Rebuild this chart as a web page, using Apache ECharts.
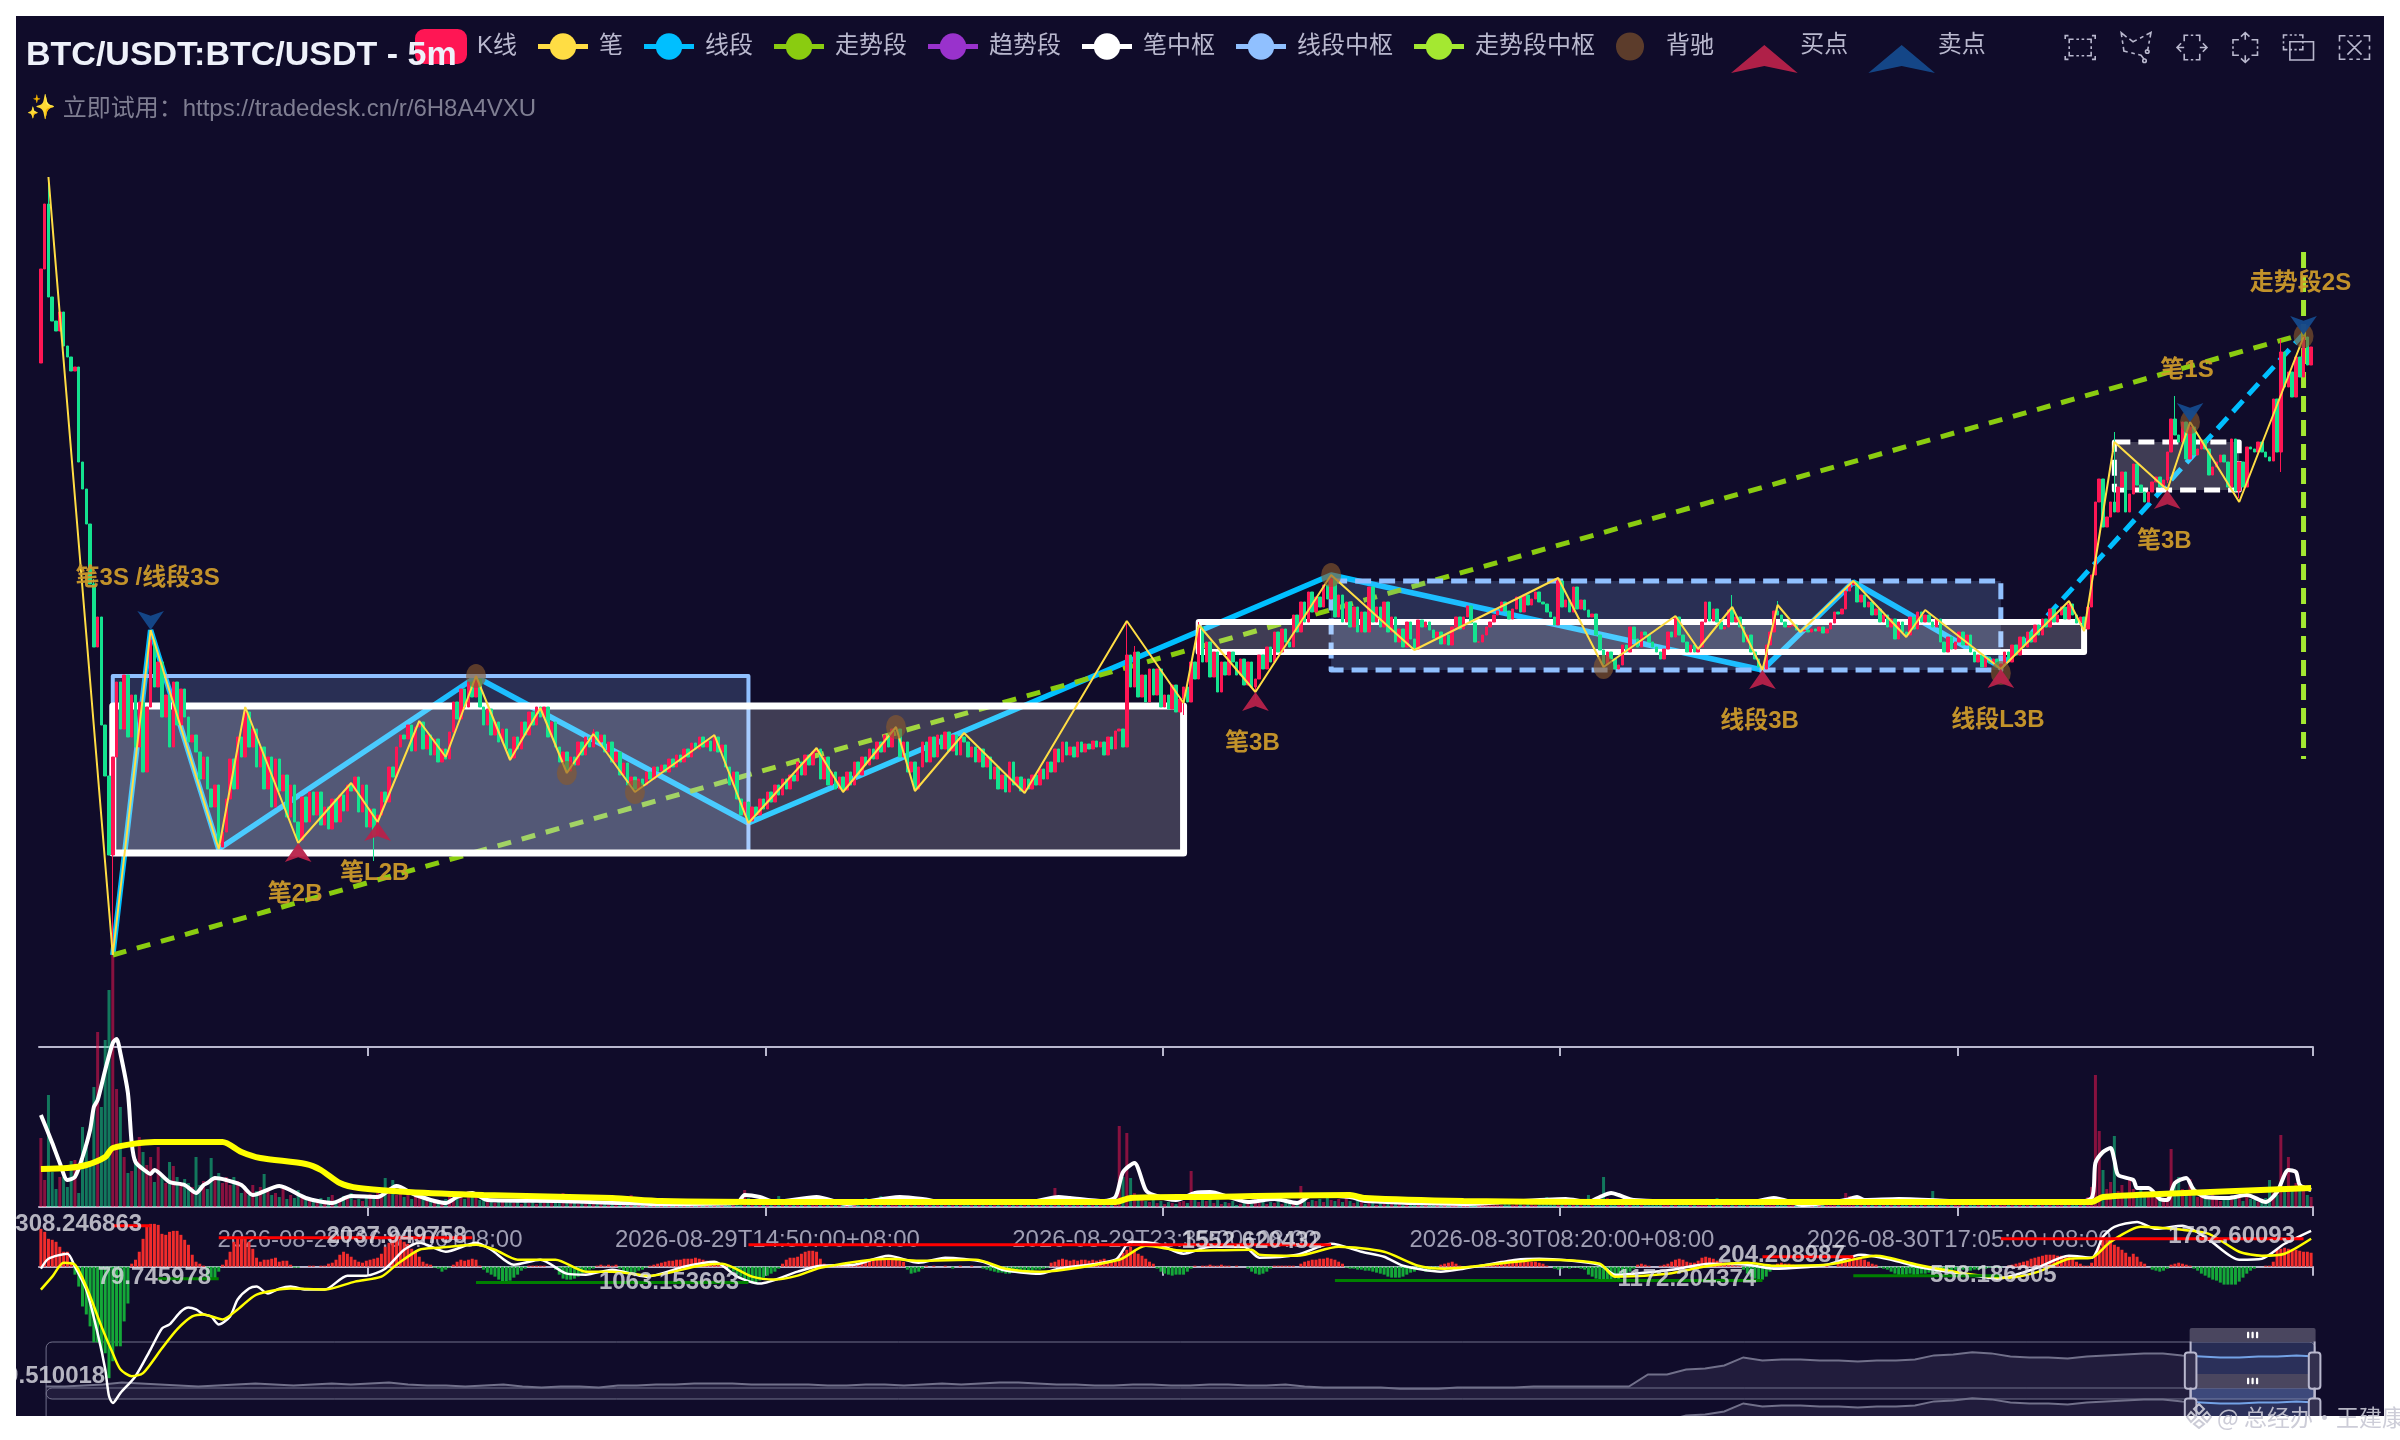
<!DOCTYPE html>
<html><head><meta charset="utf-8">
<style>
html,body{margin:0;padding:0;background:#fff;width:2400px;height:1440px;overflow:hidden}
#c{position:absolute;left:16px;top:16px;width:2368px;height:1400px}
#wm{position:absolute;left:2186px;top:1399px;font:23px 'Noto Sans CJK SC',sans-serif;color:rgba(200,200,212,.9);white-space:nowrap;display:flex;align-items:center;gap:5px}
</style>
<script src="https://cdn.jsdelivr.net/npm/echarts@6/dist/echarts.min.js"></script>
</head><body>
<div id="c"></div>
<div id="wm"><svg width="26" height="26" viewBox="0 0 26 26"><path d="M13 1l5 5-5 5-5-5zM5 9l5 5-5 5-4-5zM21 9l4 5-4 5-5-5zM13 17l5 4-5 4-5-4z" fill="none" stroke="rgba(200,200,212,.95)" stroke-width="2"/></svg><span>@ 总经办·王建康</span></div>
<script>
const firstOpen = 684;
const closes = [
778,843,750,726,716,735,701,690,676,680,585,558,523,463,400,430,322,271,192,290,
365,318,372,310,352,300,345,275,340,407,
360,385,330,352,300,365,322,358,330,305,312,295,268,290,258,240,262,200,
215,248,288,258,310,290,335,
300,318,280,300,258,290,240,288,256,272,230,262,225,207,
250,225,255,232,255,222,240,218,248,225,252,236,262,256,
270,235,262,220,238,212,232,
255,245,280,270,300,312,308,322,296,320,325,
298,312,292,308,285,298,288,
315,345,328,358,340,365,350,368,
340,322,338,312,325,305,318,298,289,
310,298,325,312,335,322,340,330,
340,310,325,300,285,295,276,
290,282,305,292,310,300,315,
305,312,295,305,285,295,272,284,262,270,258,
268,262,275,268,280,276,282,275,288,280,292,285,298,290,304,298,310,300,306,296,310,
295,302,280,262,275,248,232,245,226,
240,232,248,238,255,245,262,252,268,258,272,266,285,272,292,282,295,298,
268,290,262,275,258,270,257,
275,262,285,272,290,282,298,288,305,295,312,300,318,318,
290,305,275,285,258,
280,305,285,310,290,312,298,315,296,312,292,310,305,
290,300,285,298,280,290,268,280,258,272,255,285,262,270,256,268,
258,272,262,278,268,285,275,298,285,305,292,300,290,305,295,303,298,306,300,305,292,310,298,316,318,300,392,
360,395,350,372,345,378,352,378,340,352,338,362,335,348,360,
345,385,368,420,
385,405,370,395,355,385,372,395,385,372,388,362,385,360,368,
392,378,400,385,415,395,418,405,400,432,415,445,425,455,435,450,440,462,448,468,
430,452,425,445,420,440,415,435,415,460,425,440,420,445,415,430,405,418,400,425,408,398,
427,420,425,417,409,415,403,412,402,420,430,418,430,441,424,405,405,412,420,425,432,436,445,436,428,438,450,435,452,442,448,455,445,443,435,430,422,466,
440,447,435,460,438,447,437,430,433,412,397,383,
395,388,378,382,402,395,420,408,400,415,412,405,400,395,388,398,415,410,430,
412,405,395,402,395,400,
425,445,426,438,425,418,420,437,425,
430,420,405,412,395,388,380,378,
402,415,436,432,
425,420,421,422,417,416,
417,415,418,416,420,414,418,424,435,433,438,456,462,465,
445,452,440,445,432,438,425,432,420,428,408,425,415,412,
430,418,435,425,432,
425,420,428,405,395,410,398,405,415,402,412,395,385,392,380,390,384,388,380,383,
395,385,402,392,410,400,415,405,422,412,428,420,438,425,432,440,428,443,
432,424,430,418,
440,472,545,568,520,530,545,535,560,575,535,553,583,562,555,545,555,565,570,560,567,595,628,612,605,625,588,620,592,598,607,598,572,580,585,592,585,560,608,556,585,560,600,598,595,605,595,590,586,648,595,695,660,675,650,690,670,710,682,700
];
const wicksUp = [[2,27],[14,5],[29,10],[146,3],[287,34],[289,6],[306,5],[341,4],[401,3],[447,15],[459,10],[479,2],[548,70],[564,23],[568,5],[592,13]];
const wicksDown = [[19,100],[47,2],[68,3],[88,26],[187,2],[302,16],[321,13],[413,3],[455,3],[518,5],[562,3],[581,7],[592,20]];
const volumes = [
69,27,112,35,18,30,30,20,46,47,14,80,60,46,120,175,100,167,217,252,
118,100,50,34,36,48,70,55,42,50,25,60,32,24,45,41,30,22,28,24,
20,50,22,26,18,49,28,34,24,30,22,30,26,14,18,12,22,16,20,33,
16,12,14,10,20,8,12,9,17,10,7,8,6,5,9,7,10,12,6,8,
11,9,14,7,8,6,10,13,9,14,11,29,16,27,12,18,10,14,8,11,
9,12,6,7,4,6,5,8,13,9,10,12,8,16,14,10,7,9,5,6,
4,8,6,5,7,4,6,3,5,4,6,3,5,4,7,5,6,4,14,5,
4,6,3,5,4,3,6,4,3,5,2,4,3,5,3,4,12,6,3,4,
3,5,2,4,3,6,3,2,4,3,5,2,3,4,2,3,5,2,3,4,
3,5,2,3,4,2,17,9,4,3,5,2,3,4,3,11,4,2,3,5,
3,6,2,4,8,3,2,4,2,3,5,2,3,6,4,2,5,3,9,2,
3,4,11,3,2,10,3,4,2,8,3,2,4,3,2,5,3,2,4,3,
2,3,5,2,4,3,2,5,3,2,3,4,2,3,5,2,3,2,4,2,
3,5,4,3,2,3,5,7,19,6,4,3,5,2,3,2,4,3,5,2,
3,4,6,3,8,81,30,74,29,14,10,8,6,5,7,4,6,3,5,4,
3,5,6,4,36,8,5,12,6,8,4,7,3,5,4,6,2,3,5,4,3,
13,4,6,3,5,4,7,3,5,4,6,4,21,9,5,7,6,8,5,10,
7,6,8,5,9,6,4,7,5,3,6,4,2,5,3,4,6,3,5,2,
3,4,2,5,3,2,6,3,2,4,3,5,2,3,4,2,5,3,2,4,
3,2,5,3,6,2,3,4,2,5,3,2,4,3,2,5,3,10,4,3,
7,3,5,2,4,8,3,6,12,7,4,5,30,9,6,8,5,7,4,3,
2,4,3,5,3,2,6,3,2,4,3,5,2,3,4,2,5,7,3,4,
3,5,9,2,4,3,5,3,2,4,6,3,5,4,2,3,6,8,5,3,
4,2,3,5,2,3,4,2,3,2,4,2,3,2,3,5,14,11,6,4,
5,3,4,3,6,2,4,3,5,2,3,6,4,2,3,5,3,4,2,16,
4,3,5,2,6,3,2,4,3,7,4,2,3,5,3,2,8,3,4,2,
3,5,3,4,2,3,5,3,6,4,3,5,4,3,4,6,8,5,4,6,
10,20,132,76,37,18,25,71,16,22,14,30,18,12,20,15,10,14,9,11,
8,10,58,24,30,18,14,28,20,10,12,8,7,14,9,6,8,10,7,12,
9,6,11,8,7,5,6,9,27,14,12,72,20,50,18,24,16,22,12,10
];
const macdHist = [
38,35,28,27,25,20,15,15,3,
-8,-20,-40,-48,-60,-76,-76,-85,-87,-112,-95,-80,-80,-55,-37,
3,7,15,28,40,43,43,42,33,32,35,36,36,32,27,22,12,5,3,1,
-10,-13,-12,-5,
2,7,15,25,28,30,28,25,18,9,5,7,7,8,9,5,6,6,2,
-1,-1,0,0,1,1,0,1,
1,3,4,7,12,15,13,10,7,5,4,6,7,8,9,13,20,24,27,30,27,25,23,18,15,10,5,3,2,
-1,-2,-5,-3,-1,
2,5,7,6,7,8,7,1,
-3,-6,-8,-10,-13,-15,-17,-14,-11,-8,-4,-2,
1,1,1,1,1,0,0,
-3,-8,-12,-13,-13,-12,-10,-7,-5,-3,-2,
1,2,1,2,1,2,
-2,-5,-7,-7,-6,-4,-3,-1,
1,2,3,4,5,6,6,7,7,8,8,8,9,8,7,6,5,5,4,3,1,
-2,-5,-8,-10,-13,-15,-16,-17,-14,-11,-9,-7,-5,-2,
3,7,9,9,
10,13,15,16,16,15,8,
3,1,1,2,1,1,2,1,1,2,
4,5,6,6,7,8,7,8,8,7,6,5,
-3,-7,-6,-5,-2,
1,0,1,0,0,1,0,-2,0,1,0,0,1,0,0,
-2,-3,-4,-5,-6,-6,-7,-7,-6,-6,-5,-6,-5,-4,-3,-3,-2,-1,
4,5,7,8,7,6,7,6,7,7,6,7,6,7,8,6,5,5,
10,14,17,20,16,13,11,8,5,3,
-2,-5,-7,-8,-9,-8,-8,-8,-5,-2,
1,0,1,1,2,1,1,2,1,1,0,1,0,0,
-2,-5,-7,-8,-7,-5,-2,
1,1,1,1,1,1,0,
3,5,6,7,7,8,8,9,8,7,5,3,
-1,-2,-2,-3,-3,-4,-4,-5,-6,-7,-8,-10,-11,-11,-11,-10,-8,-6,-5,-3,
-3,-5,-4,-3,-2,
2,3,4,5,3,1,
0,0,1,1,0,1,
2,3,4,5,6,6,7,7,6,6,6,5,5,5,4,3,
1,0,
-2,-3,-2,-1,-2,-1,-1,-2,-3,-8,-10,-12,
-14,-15,-15,-13,-12,-13,-11,-9,-5,-2,
2,3,2,1,0,0,1,
2,3,5,7,8,7,5,4,4,6,9,10,9,8,
6,5,4,3,2,1,1,
-3,-7,-10,-12,-14,-13,-10,-5,
1,3,4,3,3,2,1,1,1,
0,0,1,0,0,1,0,0,
3,5,7,9,10,9,8,7,5,3,2,
-1,-2,-3,-5,-7,-9,-9,-8,-7,-9,-8,-7,-7,-6,-7,-6,-5,-5,-4,-4,-3,-3,-3,-4,-4,-3,-3,-2,-2,-1,-1,-1,-1,
0,
1,2,3,4,5,6,8,9,10,11,12,12,12,11,11,10,10,8,5,3,
1,1,
4,12,20,28,27,25,22,20,17,14,10,13,10,5,3,
0,
-3,-4,-5,-4,-2,
2,3,4,3,2,1,
-2,-4,-7,-9,-11,-13,-14,-16,-18,-18,-18,-18,-15,-11,-7,-4,-2,
0,0,1,1,
5,17,18,19,18,17,17,16,15,15,14
];
const penPoints = [[2,870],[19,92],[29,417],[47,198],[54,340],[68,204],[82,264],[89,225],[100,326],[107,290],[115,371],[124,287],[132,339],[139,274],[146,313],[157,255],[178,312],[187,224],[205,299],[212,255],[226,320],[231,256],[244,314],[260,254],[287,426],[302,344],[306,422],[321,355],[341,472],[363,397],[401,469],[413,380],[432,431],[438,398],[447,440],[455,377],[459,442],[465,415],[479,466],[493,410],[498,437],[518,378],[536,446],[540,416],[548,605],[562,557],[568,625],[581,545],[598,710]];
const segmentPoints = [[19,92],[29,417],[47,198],[115,370],[187,224],[341,472],[455,377],[479,465],[518,380]];
const segmentPending = [[518,380],[598,713]];
const trendPoints = [[19,92],[598,713]];
const trendCenterLine = [[598,795],[598,288]];
const biCenters = [[19,302,341,194,7,'solid'],[306,540,425,395,6,'solid'],[548,581,605,557,5,[16,8]]];
const segCenters = [[19,187,371,195,4,'solid'],[341,518,466,377,5,[16,8]]];
const divergencePoints = [[115,371],[139,274],[157,255],[226,320],[341,472],[413,380],[518,374],[568,625],[598,711]];
const buyPoints = [[68,204,'笔2B'],[89,225,'笔L2B'],[321,355,'笔3B'],[455,377,'线段3B'],[518,378,'线段L3B'],[562,557,'笔3B']];
const sellPoints = [[29,417,'笔3S /线段3S'],[568,625,'笔1S'],[598,712,'走势段2S']];
const volMaFast = [[0,92],[3,64],[5,44],[7,27],[9,30],[11,50],[13,77],[14,100],[15,107],[17,137],[19,164],[20,168],[21,154],[23,114],[24,64],[25,45],[28,35],[29,33],[30,37],[34,25],[38,22],[41,14],[43,22],[44,24],[46,29],[49,27],[53,22],[56,12],[63,21],[70,9],[77,4],[82,11],[89,10],[94,21],[99,12],[107,4],[110,10],[114,14],[118,7],[137,6],[164,3],[184,4],[186,12],[190,10],[194,5],[205,10],[213,3],[227,10],[233,8],[240,4],[260,4],[269,10],[272,9],[281,6],[284,10],[286,35],[289,44],[292,17],[294,12],[300,7],[305,14],[309,15],[314,10],[319,5],[326,8],[332,4],[336,12],[346,10],[350,6],[376,3],[403,8],[409,5],[412,10],[415,14],[417,12],[421,7],[451,4],[458,9],[466,2],[477,7],[480,10],[482,7],[491,8],[511,5],[533,4],[542,9],[543,44],[545,55],[547,59],[548,47],[549,32],[553,27],[554,19],[557,19],[560,8],[562,7],[564,24],[567,29],[569,17],[572,10],[578,9],[583,12],[588,5],[591,15],[594,37],[596,35],[597,22],[600,17]];
const volMaSlow = [[0,38],[7,39],[12,42],[17,50],[19,59],[30,65],[48,65],[53,55],[58,49],[70,43],[74,37],[79,24],[84,19],[97,15],[117,12],[151,9],[164,6],[200,5],[284,5],[288,9],[305,10],[346,12],[350,9],[376,6],[412,5],[542,5],[545,10],[560,13],[600,19]];
const difPoints = [[0,-2],[2,8],[7,13],[9,0],[12,-23],[15,-67],[17,-103],[18,-130],[19,-137],[21,-127],[25,-110],[29,-83],[32,-62],[34,-58],[37,-45],[39,-41],[41,-43],[43,-48],[45,-50],[47,-58],[50,-50],[52,-33],[55,-22],[57,-20],[60,-27],[63,-22],[66,-20],[70,-23],[75,-23],[81,-9],[86,-9],[91,-2],[96,17],[100,24],[107,15],[115,24],[119,17],[125,2],[132,7],[139,-7],[144,-8],[151,-3],[160,-10],[170,0],[178,5],[184,-10],[190,-17],[200,-5],[206,1],[215,2],[224,11],[232,4],[239,9],[249,5],[254,-3],[264,-7],[269,-2],[284,7],[288,25],[295,23],[302,13],[309,20],[318,20],[322,9],[332,12],[341,23],[349,15],[355,10],[360,1],[370,-5],[376,-2],[390,7],[396,8],[412,2],[416,-8],[431,-3],[441,3],[451,2],[458,-2],[472,2],[481,12],[489,7],[496,0],[509,-8],[517,-12],[527,-2],[536,11],[542,9],[545,30],[548,40],[554,45],[559,38],[566,41],[573,27],[581,7],[587,8],[593,23],[600,36]];
const deaPoints = [[0,-23],[3,-10],[6,4],[9,2],[12,-20],[16,-60],[19,-87],[21,-103],[24,-110],[27,-107],[32,-82],[36,-63],[40,-50],[43,-48],[48,-53],[52,-43],[57,-28],[66,-22],[75,-23],[83,-15],[90,-10],[94,2],[100,17],[105,19],[115,22],[120,17],[126,7],[136,7],[144,-5],[151,-5],[161,-9],[174,1],[180,3],[188,-10],[194,-13],[200,-9],[206,-1],[224,8],[232,6],[247,7],[255,-2],[264,-5],[285,7],[292,21],[302,16],[320,17],[322,12],[332,11],[343,20],[355,15],[364,1],[371,-2],[390,5],[396,7],[412,3],[416,-10],[430,-7],[441,1],[451,4],[458,1],[472,2],[485,11],[496,2],[509,-7],[520,-11],[528,-5],[536,8],[542,9],[547,25],[555,40],[566,37],[573,33],[581,15],[587,11],[593,13],[600,28]];
const macdRedLevels = [[19,29,41],[47,114,29],[187,341,22],[455,479,10],[518,598,28]];
const macdGreenLevels = [[31,47,-12],[115,187,-16],[342,455,-14],[479,518,-9]];
const macdNotes = [[10,43,'308.246863'],[30,-11,'79.745978'],[94,30,'2037.949758'],[166,-16,'1063.153693'],[320,25,'1552.620432'],[435,-13,'1172.204374'],[460,11,'204.208987'],[516,-9,'558.186305'],[579,30,'1782.60093']];
const macdLeftNote = [[17,-110,'2309.510018']];
const historyShadow = [13,13,14,15,17,16,15,14,13,14,15,16,15,14,15,16,15,16,17,15,14,14,13,14,15,13,12,13,13,12,14,14,15,15,16,16,16,15,15,15,15,14,14,15,15,14,15,16,15,16,17,17,16,15,15,14,14,15,15,14,14,15,15,14,14,15,13,12,12,12,12,11,11,11,12,12,12,12,13,13,13,13,13,13,25,25,30,31,34,42,39,40,40,39,39,38,39,39,40,44,45,47,46,43,42,42,41,43,44,45,46,46,44,43,42,42,43,43,44,43];
const legendNames = ['K线','笔','线段','走势段','趋势段','笔中枢','线段中枢','走势段中枢',{name:'背驰',icon:'path://M0 0L0 .01M33 33L33 32.99M16.5 2.5a14 14 0 1 0 .01 0z'}];
const startMs = Date.UTC(2026,7,28,22,50);
const categories = closes.map((_, i) => new Date(startMs + i*300000).toISOString().slice(0,19) + '+08:00');
const wu = Object.fromEntries(wicksUp), wd = Object.fromEntries(wicksDown);
const opens = closes.map((c,i)=> i ? closes[i-1] : firstOpen);
const candleData = closes.map((c,i)=>[opens[i],c,Math.min(opens[i],c)-(wd[i]||0),Math.max(opens[i],c)+(wu[i]||0)]);
const RED='#ff1654', GREEN='#14e38f', FF="'Liberation Sans','Noto Sans CJK SC',sans-serif";
const tickShown = i => i>=87 && (i-87)%105===0;
function xAx(g, showLabel){
  return {type:'category',gridIndex:g,data:categories,boundaryGap:true,
    axisLine:{show:true,onZero:true,lineStyle:{color:'#b9b8ce',width:2}},
    axisTick:{show:true,length:9,interval:(i)=>tickShown(i),lineStyle:{color:'#b9b8ce',width:2}},
    splitLine:{show:false},
    axisLabel:{show:showLabel,interval:(i)=>tickShown(i),margin:21,fontSize:24,color:'#9f9eb3',fontFamily:FF}};
}
function yAx(g,min,max){return {type:'value',gridIndex:g,min,max,show:false,splitLine:{show:false}};}
function centerArea(list,color){
  return list.map(r=>[{coord:[r[0],r[2]],itemStyle:{color:color.fill,borderColor:color.line,borderWidth:r[4],borderType:r[5],borderJoin:'round'}},{coord:[r[1],r[3]]}]);
}
function levels(list){const out=[];list.forEach(l=>{out.push([l[0],l[2]],[l[1],l[2]],['-','-']);});return out;}
const dz = (top)=>({type:'slider',xAxisIndex:3,start:94.45,end:100,left:24,width:2270,top,height:58,showDetail:false,
  backgroundColor:'rgba(0,0,0,0)',
  borderColor:'#71708a',borderRadius:6,moveHandleSize:14,moveHandleStyle:{color:'#4a465f',opacity:1},
  handleStyle:{color:'#33304f',borderColor:'#b9b8ce',borderWidth:2},
  fillerColor:'rgba(135,175,274,0.2)',
  dataBackground:{lineStyle:{color:'#71708a',width:2,opacity:1},areaStyle:{color:'#25203f',opacity:.85}},
  selectedDataBackground:{lineStyle:{color:'#6f9fe0',width:2},areaStyle:{color:'rgba(135,175,255,.12)'}}});
const option = {
  animation:false,
  backgroundColor:'#100c2a',
  textStyle:{fontFamily:FF},
  title:{text:'BTC/USDT:BTC/USDT - 5m',left:5,top:18,
    textStyle:{color:'#eef1fa',fontSize:34,fontWeight:'bold',fontFamily:FF},
    subtext:'{s|✨} 立即试用：https://tradedesk.cn/r/6H8A4VXU',itemGap:24,
    subtextStyle:{color:'#7f7e92',fontSize:24,fontFamily:FF,rich:{s:{color:'#8c7434',fontSize:24,fontFamily:'DejaVu Sans'}}}},
  legend:[
    {data:legendNames,left:394,top:8,itemWidth:50,itemHeight:33,itemGap:18.5,selectedMode:false,
     textStyle:{color:'#b9b8ce',fontSize:24,padding:[0,0,0,6]},lineStyle:{width:5,type:'solid'}},
    {data:['买点','卖点'],left:1710,top:12,itemWidth:50,itemHeight:28,itemGap:20,selectedMode:false,symbolKeepAspect:false,icon:'arrow',
     textStyle:{color:'#b9b8ce',fontSize:24,padding:[0,0,32,6]}}
  ],
  toolbox:{right:-3,top:-1,itemSize:30,itemGap:21,showTitle:false,iconStyle:{borderColor:'#b9b8ce',borderWidth:1.6},
    feature:{brush:{type:['rect','polygon','lineX','lineY','keep','clear']}}},
  brush:{xAxisIndex:0,brushLink:'all',outOfBrush:{colorAlpha:0.1}},
  grid:[
    {left:23,width:2274,top:84,height:947},
    {left:23,width:2274,top:939,height:252},
    {left:23,width:2274,top:1181,height:220},
    {left:0,width:100,top:0,height:10}
  ],
  xAxis:[xAx(0,false),xAx(1,true),xAx(2,false),
    {type:'category',gridIndex:3,show:false,data:historyShadow.map((_,i)=>i)}],
  yAxis:[yAx(0,0,947),yAx(1,0,252),yAx(2,-150,70),{type:'value',gridIndex:3,show:false,scale:true,splitLine:{show:false}}],
  dataZoom:[dz(1312),dz(1358)],
  series:[
    {name:'线段',type:'line',xAxisIndex:0,yAxisIndex:0,z:2,data:segmentPoints,symbol:'none',lineStyle:{color:'#00bfff',width:5.5},itemStyle:{color:'#00bfff'}},
    {name:'线段待定',type:'line',z:2,data:segmentPending,symbol:'none',lineStyle:{color:'#00bfff',width:5,type:[15,8]}},
    {name:'走势段',type:'line',z:2,data:trendPoints,symbol:'none',lineStyle:{color:'#8acc10',width:5,type:[14,11]},itemStyle:{color:'#8acc10'}},
    {name:'趋势段',type:'line',data:[],symbol:'none',lineStyle:{color:'#9932cc',width:3},itemStyle:{color:'#9932cc'}},
    {name:'线段中枢',type:'line',data:[],symbol:'none',lineStyle:{color:'#90c0ff',width:4},itemStyle:{color:'#90c0ff'},
     markArea:{silent:true,z:3,data:centerArea(segCenters,{fill:'rgba(143,192,255,.2)',line:'#90c0ff'})}},
    {name:'笔中枢',type:'line',data:[],symbol:'none',lineStyle:{color:'#fff',width:4},itemStyle:{color:'#fff'},
     markArea:{silent:true,z:3,data:centerArea(biCenters,{fill:'rgba(255,255,255,.2)',line:'#ffffff'})}},
    {name:'走势段中枢',type:'line',z:3,data:trendCenterLine,symbol:'none',lineStyle:{color:'#a4e831',width:5,type:[16,8]},itemStyle:{color:'#a4e831'}},
    {name:'K线',type:'candlestick',z:4,xAxisIndex:0,yAxisIndex:0,barWidth:3,large:false,data:candleData,
     itemStyle:{color:RED,color0:GREEN,borderColor:RED,borderColor0:GREEN,borderColorDoji:RED,borderWidth:1}},
    {name:'笔',type:'line',z:5,data:penPoints,symbol:'none',lineStyle:{color:'#ffdd44',width:2},itemStyle:{color:'#ffdd44'}},
    {name:'背驰',type:'scatter',z:6,data:divergencePoints,symbol:'circle',symbolSize:[20,24],itemStyle:{color:'#8b5a2b',opacity:.62}},
    {name:'买点',type:'scatter',z:7,data:buyPoints,symbol:'arrow',symbolSize:[20,19],itemStyle:{color:'#b8224a',opacity:.95},
     label:{show:true,position:'inside',offset:[-3,42],formatter:p=>p.data[2],color:'#cc9a2a',fontSize:24,fontWeight:'bold'}},
    {name:'卖点',type:'scatter',z:7,data:sellPoints,symbol:'arrow',symbolRotate:180,symbolSize:[20,19],itemStyle:{color:'#154a8c',opacity:.95},
     label:{show:true,position:'inside',offset:[-3,-42],formatter:p=>p.data[2],color:'#cc9a2a',fontSize:24,fontWeight:'bold'}},
    {type:'bar',name:'成交量',xAxisIndex:1,yAxisIndex:1,barWidth:3,data:volumes.map((v,i)=>({value:v,itemStyle:{color:closes[i]>=opens[i]?'rgba(255,22,84,.5)':'rgba(20,227,143,.5)'}}))},
    {type:'line',name:'量均快',xAxisIndex:1,yAxisIndex:1,z:3,data:volMaFast,smooth:.25,symbol:'none',lineStyle:{color:'#fff',width:4}},
    {type:'line',name:'量均慢',xAxisIndex:1,yAxisIndex:1,z:4,data:volMaSlow,smooth:.25,symbol:'none',lineStyle:{color:'#ffff00',width:6}},
    {type:'bar',name:'MACD',xAxisIndex:2,yAxisIndex:2,z:8,barWidth:3,data:macdHist.map(v=>({value:v,itemStyle:{color:v>=0?'#f12c2c':'#14a838'}}))},
    {type:'line',name:'DIF',xAxisIndex:2,yAxisIndex:2,z:9,data:difPoints,smooth:.25,symbol:'none',lineStyle:{color:'#fff',width:2.5}},
    {type:'line',name:'DEA',xAxisIndex:2,yAxisIndex:2,z:9,data:deaPoints,smooth:.25,symbol:'none',lineStyle:{color:'#ffff00',width:2.5}},
    {type:'line',name:'红区间',xAxisIndex:2,yAxisIndex:2,z:9,data:levels(macdRedLevels),symbol:'none',lineStyle:{color:'#ff0000',width:3}},
    {type:'line',name:'绿区间',xAxisIndex:2,yAxisIndex:2,z:9,data:levels(macdGreenLevels),symbol:'none',lineStyle:{color:'#008000',width:3}},
    {type:'scatter',name:'区间面积',xAxisIndex:2,yAxisIndex:2,z:10,symbolSize:0,data:macdNotes,silent:true,
     label:{show:true,position:'inside',formatter:p=>p.data[2],color:'#dfdfe6',fontSize:24,fontWeight:'bold'}},
    {type:'scatter',name:'区间面积左',xAxisIndex:2,yAxisIndex:2,z:10,symbolSize:0,data:macdLeftNote,silent:true,
     label:{show:true,position:'left',distance:0,formatter:p=>p.data[2],color:'#dfdfe6',fontSize:24,fontWeight:'bold'}},
    {type:'line',name:'历史',xAxisIndex:3,yAxisIndex:3,data:historyShadow,symbol:'none',silent:true,lineStyle:{opacity:0},itemStyle:{opacity:0}}
  ]
};
const chart = echarts.init(document.getElementById('c'),'dark',{renderer:'canvas'});
chart.setOption(option);
</script>
</body></html>
